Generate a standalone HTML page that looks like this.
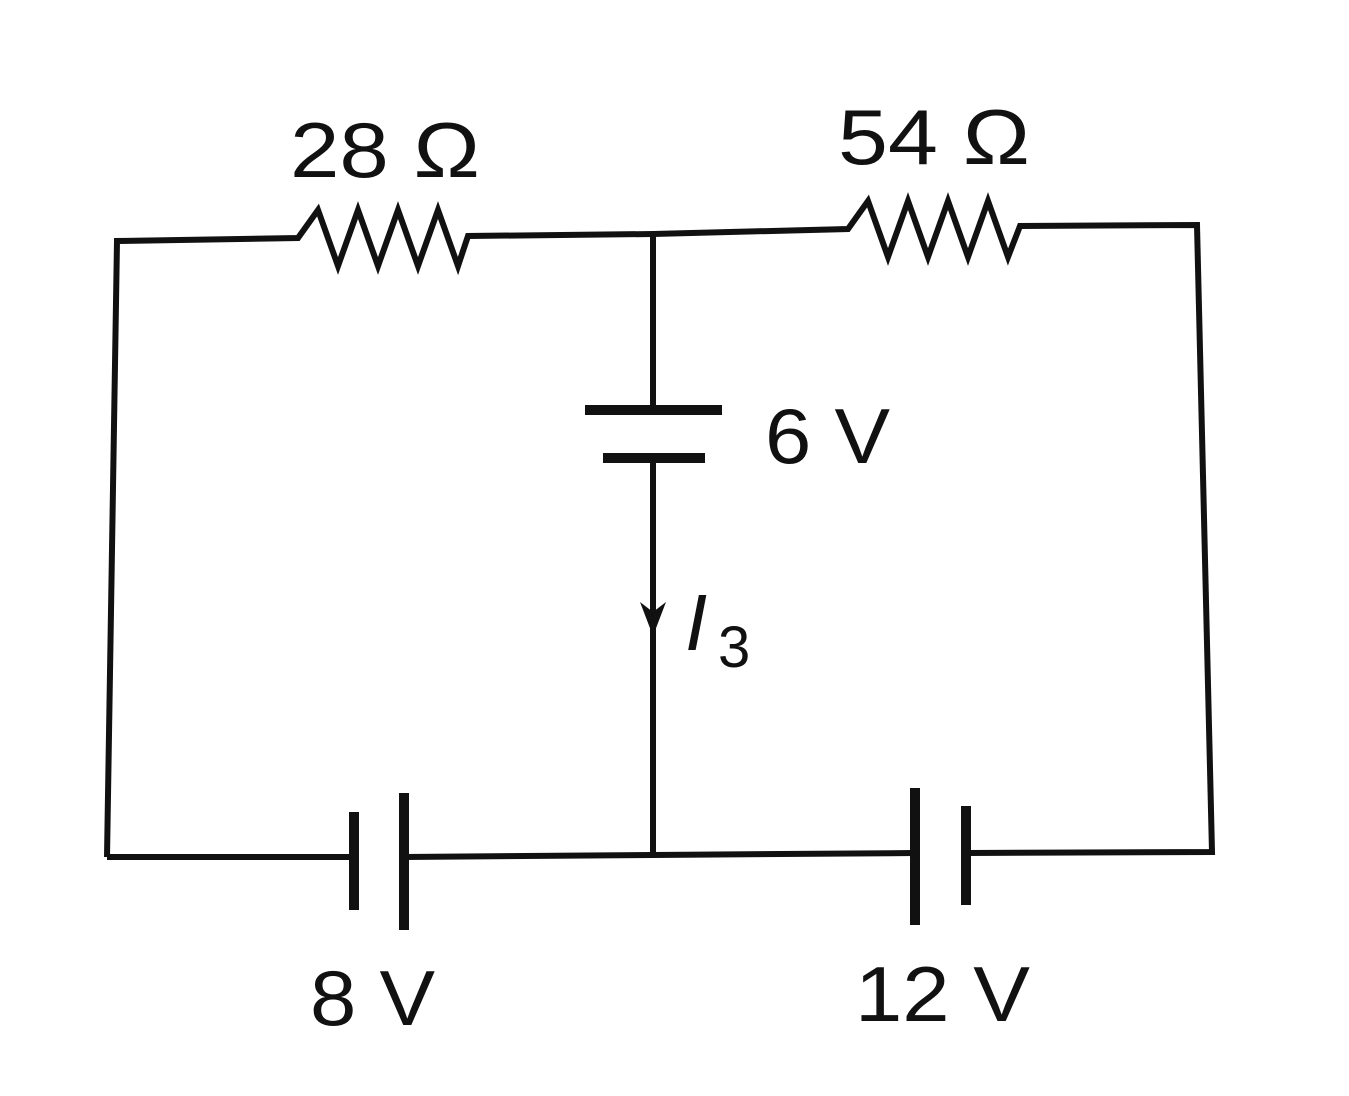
<!DOCTYPE html>
<html><head><style>
html,body{margin:0;padding:0;background:#fff;}
svg{display:block;}
text{font-family:"Liberation Sans",sans-serif;fill:#111;}
</style></head><body>
<svg width="1349" height="1096" viewBox="0 0 1349 1096" xmlns="http://www.w3.org/2000/svg">
<g stroke="#111" stroke-width="6" fill="none" stroke-linejoin="miter">
<polyline points="107,857 117,241 298,238 318,210 338,266 358,210 378,266 398,210 418,266 438,210 458,266 468,236 653,234 848,229 868,201 888,257 908,201 928,257 948,201 968,257 988,201 1008,257 1020,226 1197,225 1212,852 968,853"/>
<polyline points="107,857 354,857"/>
<polyline points="404,857 653,855 915,853"/>
<line x1="653" y1="234" x2="653" y2="410"/>
<line x1="653" y1="458" x2="653" y2="855"/>
</g>
<g stroke="#111" stroke-width="10" fill="none">
<line x1="585" y1="410" x2="722" y2="410"/>
<line x1="603" y1="458" x2="705" y2="458"/>
<line x1="354" y1="812" x2="354" y2="910"/>
<line x1="404" y1="793" x2="404" y2="930"/>
<line x1="915" y1="788" x2="915" y2="925"/>
<line x1="966" y1="806" x2="966" y2="905"/>
</g>
<polygon points="640,602 653,612 666,602 653,636" fill="#111"/>
<text x="290" y="177" font-size="78" textLength="190" lengthAdjust="spacingAndGlyphs">28 Ω</text>
<text x="838" y="164" font-size="78" textLength="192" lengthAdjust="spacingAndGlyphs">54 Ω</text>
<text x="765" y="463" font-size="78" textLength="125" lengthAdjust="spacingAndGlyphs">6 V</text>
<text x="685" y="650" font-size="80" font-style="italic" font-family="Liberation Serif">I</text>
<text x="718" y="667" font-size="58">3</text>
<text x="310" y="1025" font-size="78" textLength="125" lengthAdjust="spacingAndGlyphs">8 V</text>
<text x="855" y="1021" font-size="78" textLength="175" lengthAdjust="spacingAndGlyphs">12 V</text>
</svg>
</body></html>
